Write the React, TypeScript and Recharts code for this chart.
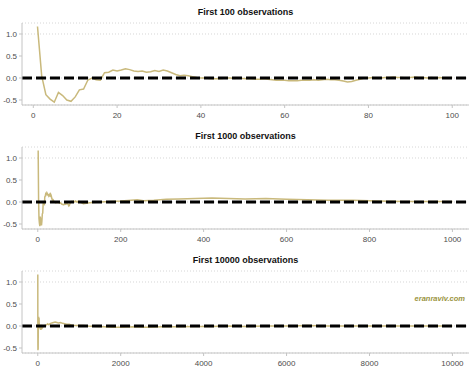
import { LineChart, Line, XAxis, YAxis, CartesianGrid, ReferenceLine } from 'recharts';

// first 100 observations, read at every index
const firstHundred = [
  1.17, 0.05, -0.38, -0.48, -0.55, -0.33, -0.4, -0.5, -0.53, -0.43,
  -0.27, -0.25, -0.05, 0.0, -0.04, -0.05, 0.12, 0.13, 0.18, 0.16,
  0.18, 0.21, 0.19, 0.16, 0.15, 0.16, 0.13, 0.14, 0.17, 0.15,
  0.18, 0.16, 0.12, 0.08, 0.05, 0.06, 0.05, 0.03, 0.01, 0.0,
  0.0, -0.01, -0.02, -0.02, -0.01, 0.0, 0.0, -0.01, 0.0, -0.01,
  -0.02, -0.02, -0.03, -0.03, -0.02, -0.03, -0.04, -0.05, -0.05, -0.05,
  -0.06, -0.06, -0.06, -0.05, -0.05, -0.05, -0.04, -0.05, -0.04, -0.03,
  -0.04, -0.04, -0.05, -0.07, -0.09, -0.08, -0.05, -0.03, 0.0, 0.0,
  0.01, 0.0, 0.0, 0.01, 0.01, 0.02, 0.01, 0.01, 0.0, 0.01,
  0.02, 0.01, 0.01, 0.0, 0.01, 0.0, 0.01, 0.0, 0.0, 0.01,
];

// later observations, read at the points where the line bends
const midObs = [110, 125, 150, 175, 200, 225, 240, 255, 280, 310, 340, 380, 420, 460, 500, 550, 600, 650, 700, 760, 820, 880, 940, 1000];
const midVals = [-0.04, -0.02, 0.0, 0.01, 0.02, 0.04, 0.05, 0.03, 0.04, 0.06, 0.07, 0.08, 0.09, 0.08, 0.07, 0.08, 0.06, 0.05, 0.04, 0.04, 0.02, 0.01, 0.01, 0.01];

const tailObs = [1100, 1200, 1400, 1600, 1800, 2000, 2300, 2600, 3000, 3400, 3800, 4200, 4600, 5000, 5500, 6000, 6500, 7000, 7500, 8000, 8500, 9000, 9500, 10000];
const tailVals = [0.01, 0.0, -0.01, -0.02, -0.03, -0.03, -0.02, -0.03, -0.02, -0.02, -0.01, -0.01, 0.0, -0.01, 0.0, 0.0, 0.01, 0.0, 0.0, 0.0, 0.0, 0.0, 0.0, 0.0];

const yTicks = [-0.5, 0, 0.5, 1];
const ticks100 = [0, 20, 40, 60, 80, 100];
const ticks1000 = [0, 200, 400, 600, 800, 1000];
const ticks10000 = [0, 2000, 4000, 6000, 8000, 10000];

const series = [
  ...firstHundred.map((v, i) => ({ obs: i + 1, value: v })),
  ...midObs.map((o, i) => ({ obs: o, value: midVals[i] })),
  ...tailObs.map((o, i) => ({ obs: o, value: tailVals[i] })),
];

const FRAME = '#c4c4c4';
const tickStyle = { fontSize: 8, fill: '#4d4d4d', fontFamily: 'Liberation Sans, Arial, sans-serif' };

interface PanelProps {
  title: string;
  maxObs: number;
  domain: [number, number];
  ticks: number[];
  watermark?: boolean;
}

const Panel = ({ title, maxObs, domain, ticks, watermark }: PanelProps) => {
  const data = series.filter((d) => d.obs <= maxObs);
  const yDomain: [number, number] = [-0.614, 1.25];
  return (
    <div style={{ position: 'relative', width: 474, height: 124 }}>
      <div
        style={{
          position: 'absolute',
          left: 22,
          width: 447,
          top: 7,
          textAlign: 'center',
          fontSize: 9,
          lineHeight: '10px',
          fontWeight: 'bold',
          fontFamily: 'Liberation Sans, Arial, sans-serif',
          color: '#111',
        }}
      >
        {title}
      </div>
      {watermark && (
        <div
          style={{
            position: 'absolute',
            right: 9,
            top: 46,
            fontSize: 7.5,
            lineHeight: '10px',
            fontWeight: 'bold',
            fontStyle: 'italic',
            fontFamily: 'Liberation Sans, Arial, sans-serif',
            color: '#9a9440',
          }}
        >
          eranraviv.com
        </div>
      )}
      <LineChart width={474} height={124} data={data} margin={{ top: 23, right: 5, bottom: 0, left: 0 }}>
        <CartesianGrid horizontal vertical={false} stroke="#d6d6d6" strokeDasharray="1 2" />
        <XAxis
          dataKey="obs"
          type="number"
          domain={domain}
          ticks={ticks}
          interval={0}
          allowDataOverflow
          height={19}
          tick={tickStyle}
          tickSize={3}
          tickMargin={4}
          stroke={FRAME}
        />
        <XAxis xAxisId="top" orientation="top" type="number" domain={domain} height={0} tick={false} tickLine={false} stroke={FRAME} />
        <YAxis
          type="number"
          domain={yDomain}
          ticks={yTicks}
          allowDataOverflow
          width={22}
          tick={tickStyle}
          tickSize={3}
          tickMargin={2}
          tickFormatter={(v: number) => v.toFixed(1)}
          stroke={FRAME}
        />
        <YAxis yAxisId="right" orientation="right" type="number" domain={yDomain} width={0} tick={false} tickLine={false} stroke={FRAME} />
        <Line
          type="linear"
          dataKey="value"
          stroke="#c9b97c"
          strokeWidth={1.5}
          dot={false}
          isAnimationActive={false}
        />
        <ReferenceLine y={0} stroke="#000" strokeWidth={3} strokeDasharray="10 4" />
      </LineChart>
    </div>
  );
};

export default function App() {
  return (
    <div style={{ position: 'absolute', top: 0, left: 0, width: 474, height: 372, background: '#fff' }}>
      <Panel title="First 100 observations" maxObs={100} domain={[-2.7, 104]} ticks={ticks100} />
      <Panel title="First 1000 observations" maxObs={1000} domain={[-38, 1040]} ticks={ticks1000} />
      <Panel title="First 10000 observations" maxObs={10000} domain={[-380, 10400]} ticks={ticks10000} watermark />
    </div>
  );
}
